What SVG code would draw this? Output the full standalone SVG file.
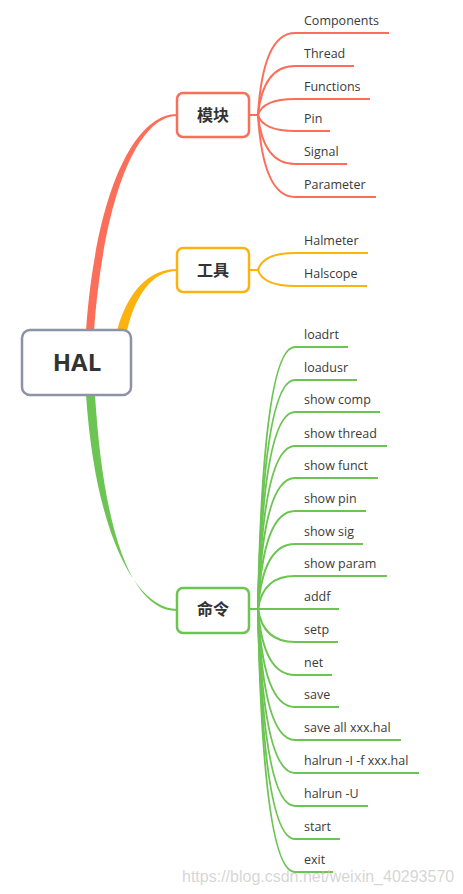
<svg xmlns="http://www.w3.org/2000/svg" width="463" height="894" viewBox="0 0 463 894">
<style>
.bg{fill:#ffffff}
.node{fill:#ffffff;stroke-width:2.5}
.red{stroke:#fa6e5a}
.org{stroke:#fdb30f}
.grn{stroke:#6cc452}
.root{fill:#ffffff;stroke:#8a94a6;stroke-width:2.5}
.lbl{font-family:"Open Sans","Noto Sans CJK SC",sans-serif;font-size:12.5px;fill:#3a3a3a}
.ntxt{font-family:"Noto Sans CJK SC","Noto Sans",sans-serif;font-size:16px;font-weight:bold;fill:#333333;text-anchor:middle}
.rtxt{font-family:"Open Sans","Liberation Sans",sans-serif;font-size:24px;font-weight:bold;fill:#333333;text-anchor:middle}
.c{fill:none;stroke-width:2;stroke-linecap:butt}
.wm{font-family:"Liberation Sans",Arial,sans-serif;font-size:16px;fill:#c8c8c8;fill-opacity:0.75}
</style>
<rect class="bg" x="0" y="0" width="463" height="894"/>
<g id="connectors">
  <!-- main tapered branches -->
  <path fill="#fa6e5a" d="M86,331 C 96,190 135,114 177,114 L177,116 C 138,116 104,195 94,331 Z"/>
  <path fill="#fdb30f" d="M117,331 C 127,293 148,269 177,269 L177,271 C 152,271 135,296 127,331 Z"/>
  <path fill="#6cc452" d="M86,395 C 96,540 138,609 177,609 L177,611 C 134,611 104,540 95,395 Z"/>
  <!-- red children -->
  <g class="c red">
    <path d="M249,115 H258"/>
    <path d="M258,115 Q263,33 295,33 H389"/>
    <path d="M258,115 Q263,66 295,66 H354"/>
    <path d="M258,115 Q263,99 295,99 H370"/>
    <path d="M258,115 Q263,131 295,131 H330"/>
    <path d="M258,115 Q263,164 295,164 H347"/>
    <path d="M258,115 Q263,197 295,197 H376"/>
  </g>
  <!-- orange children -->
  <g class="c org">
    <path d="M249,270 H258"/>
    <path d="M258,270 Q263,253 295,253 H368"/>
    <path d="M258,270 Q263,286 295,286 H367"/>
  </g>
  <!-- green children -->
  <g class="c grn">
    <path d="M249,609 H258"/>
    <path d="M258,609 Q263,347 295,347 H348"/>
    <path d="M258,609 Q263,380 295,380 H357"/>
    <path d="M258,609 Q263,412 295,412 H380"/>
    <path d="M258,609 Q263,446 295,446 H387"/>
    <path d="M258,609 Q263,478 295,478 H378"/>
    <path d="M258,609 Q263,511 295,511 H366"/>
    <path d="M258,609 Q263,544 295,544 H363"/>
    <path d="M258,609 Q263,576 295,576 H387"/>
    <path d="M258,609 H339"/>
    <path d="M258,609 Q263,642 295,642 H338"/>
    <path d="M258,609 Q263,675 295,675 H332"/>
    <path d="M258,609 Q263,707 295,707 H339"/>
    <path d="M258,609 Q263,740 295,740 H401"/>
    <path d="M258,609 Q263,773 295,773 H419"/>
    <path d="M258,609 Q263,806 295,806 H368"/>
    <path d="M258,609 Q263,839 295,839 H340"/>
    <path d="M258,609 Q263,872 295,872 H333"/>
  </g>
</g>
<g id="node-hal">
  <rect class="root" x="22" y="330" width="109" height="65" rx="8"/>
  <text class="rtxt" x="77" y="371">HAL</text>
</g>
<g id="node-mokuai">
  <rect class="node red" x="177" y="93" width="72" height="44" rx="6"/>
  <text class="ntxt" x="213" y="121">模块</text>
</g>
<g id="node-gongju">
  <rect class="node org" x="177" y="248" width="72" height="44" rx="6"/>
  <text class="ntxt" x="213" y="276">工具</text>
</g>
<g id="node-mingling">
  <rect class="node grn" x="177" y="588" width="72" height="45" rx="6"/>
  <text class="ntxt" x="213" y="615">命令</text>
</g>
<g id="labels-mokuai">
  <text class="lbl" x="304" y="25">Components</text>
  <text class="lbl" x="304" y="58">Thread</text>
  <text class="lbl" x="304" y="91">Functions</text>
  <text class="lbl" x="304" y="123">Pin</text>
  <text class="lbl" x="304" y="156">Signal</text>
  <text class="lbl" x="304" y="189">Parameter</text>
</g>
<g id="labels-gongju">
  <text class="lbl" x="304" y="245">Halmeter</text>
  <text class="lbl" x="304" y="278">Halscope</text>
</g>
<g id="labels-mingling">
  <text class="lbl" x="304" y="339">loadrt</text>
  <text class="lbl" x="304" y="372">loadusr</text>
  <text class="lbl" x="304" y="404">show comp</text>
  <text class="lbl" x="304" y="438">show thread</text>
  <text class="lbl" x="304" y="470">show funct</text>
  <text class="lbl" x="304" y="503">show pin</text>
  <text class="lbl" x="304" y="536">show sig</text>
  <text class="lbl" x="304" y="568">show param</text>
  <text class="lbl" x="304" y="601">addf</text>
  <text class="lbl" x="304" y="634">setp</text>
  <text class="lbl" x="304" y="667">net</text>
  <text class="lbl" x="304" y="699">save</text>
  <text class="lbl" x="304" y="732">save all xxx.hal</text>
  <text class="lbl" x="304" y="765">halrun -I -f xxx.hal</text>
  <text class="lbl" x="304" y="798">halrun -U</text>
  <text class="lbl" x="304" y="831">start</text>
  <text class="lbl" x="304" y="864">exit</text>
</g>
<text class="wm" x="182" y="882">https://blog.csdn.net/weixin_40293570</text>
</svg>
